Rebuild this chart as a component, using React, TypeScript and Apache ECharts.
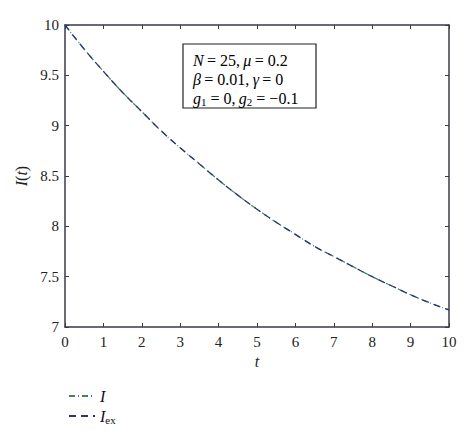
import React, { useEffect, useRef } from "react";
import * as echarts from "echarts";

const tValues = [0, 0.5, 1, 1.5, 2, 2.5, 3, 3.5, 4, 4.5, 5, 5.5, 6, 6.5, 7, 7.5, 8, 8.5, 9, 9.5, 10];
const iValues = [10, 9.76, 9.54, 9.33, 9.14, 8.95, 8.78, 8.62, 8.46, 8.31, 8.17, 8.04, 7.92, 7.80, 7.70, 7.60, 7.50, 7.41, 7.32, 7.24, 7.17];
const iexValues = [10, 9.76, 9.54, 9.33, 9.14, 8.95, 8.78, 8.62, 8.46, 8.31, 8.17, 8.04, 7.92, 7.80, 7.70, 7.60, 7.50, 7.41, 7.32, 7.24, 7.17];
const yTickLabels = ["7", "7.5", "8", "8.5", "9", "9.5", "10"];

const FONT = "Liberation Serif";
const AXIS_COLOR = "#3a3a4a";
const NAVY = "#2c3280";
const GREEN = "#3d8a4a";

export default function App() {
  const ref = useRef<HTMLDivElement>(null);
  useEffect(() => {
    if (!ref.current) return;
    const chart = echarts.init(ref.current, undefined, { renderer: "svg" });
    const axisCommon = {
      type: "value" as const,
      axisLine: { show: true, onZero: false, lineStyle: { color: AXIS_COLOR, width: 1.5 } },
      axisTick: { show: true, inside: true, length: 4, lineStyle: { color: AXIS_COLOR, width: 1 } },
      splitLine: { show: false },
    };
    const rich = {
      it: { fontFamily: FONT, fontStyle: "italic", fontSize: 16, color: "#111" },
      n: { fontFamily: FONT, fontSize: 16, color: "#111" },
      sub: { fontFamily: FONT, fontSize: 11, color: "#111", padding: [7, 0, 0, 0] },
    };
    chart.setOption({
      animation: false,
      grid: { left: 65, right: 25, top: 25, bottom: 118 },
      xAxis: [
        {
          ...axisCommon,
          min: 0,
          max: 10,
          interval: 1,
          position: "bottom",
          axisLabel: { fontFamily: FONT, fontSize: 15, color: "#222", margin: 7 },
          name: "t",
          nameLocation: "middle",
          nameGap: 23,
          nameTextStyle: { fontFamily: FONT, fontSize: 16, fontStyle: "italic", color: "#222" },
        },
        {
          ...axisCommon,
          min: 0,
          max: 10,
          interval: 1,
          position: "top",
          axisLabel: { show: false },
        },
      ],
      yAxis: [
        {
          ...axisCommon,
          min: 7,
          max: 10,
          interval: 0.5,
          position: "left",
          axisLabel: {
            fontFamily: FONT,
            fontSize: 15,
            color: "#222",
            margin: 6,
            formatter: (v: number) => yTickLabels[Math.round((v - 7) / 0.5)] ?? String(v),
          },
          name: "{it|I}{n|(}{it|t}{n|)}",
          nameLocation: "middle",
          nameGap: 26,
          nameRotate: 90,
          nameTextStyle: {
            rich: {
              it: { fontFamily: FONT, fontStyle: "italic", fontSize: 16, color: "#222" },
              n: { fontFamily: FONT, fontSize: 16, color: "#222" },
            },
          },
        },
        {
          ...axisCommon,
          min: 7,
          max: 10,
          interval: 0.5,
          position: "right",
          axisLabel: { show: false },
        },
      ],
      legend: {
        orient: "vertical",
        left: 63,
        top: 383,
        itemWidth: 26,
        itemHeight: 12,
        itemGap: 4,
        data: ["I", "Iex"],
        itemStyle: { opacity: 0 },
        formatter: (name: string) => (name === "I" ? "{it|I}" : "{it|I}{sub|ex}"),
        textStyle: {
          rich: {
            it: { fontFamily: FONT, fontStyle: "italic", fontSize: 16, color: "#111" },
            sub: { fontFamily: FONT, fontSize: 11, color: "#111", padding: [7, 0, 0, 0] },
          },
        },
      },
      graphic: [
        {
          type: "rect",
          shape: { x: 183, y: 44, width: 133, height: 64 },
          style: { fill: "#fff", stroke: "#222", lineWidth: 1.2 },
          z: 10,
        },
        {
          type: "text",
          x: 193,
          y: 51,
          z: 11,
          style: {
            text:
              "{it|N} {n|= 25,} {it|μ} {n|= 0.2}\n" +
              "{it|β} {n|= 0.01,} {it|γ} {n|= 0}\n" +
              "{it|g}{sub|1}{n| = 0,} {it|g}{sub|2}{n| = −0.1}",
            lineHeight: 19,
            rich,
          },
        },
      ],
      series: [
        {
          name: "I",
          type: "line",
          data: tValues.map((t, i) => [t, iValues[i]]),
          smooth: true,
          showSymbol: false,
          symbol: "none",
          lineStyle: { color: GREEN, width: 1.2, type: [6, 3, 1, 3] },
          itemStyle: { color: GREEN },
          z: 2,
        },
        {
          name: "Iex",
          type: "line",
          data: tValues.map((t, i) => [t, iexValues[i]]),
          smooth: true,
          showSymbol: false,
          symbol: "none",
          lineStyle: { color: NAVY, width: 1.3, type: [7, 5] },
          itemStyle: { color: NAVY },
          z: 3,
        },
      ],
    });
    return () => chart.dispose();
  }, []);
  return (
    <div
      ref={ref}
      style={{ position: "fixed", left: 0, top: 0, width: 474, height: 445, background: "#fff" }}
    />
  );
}
